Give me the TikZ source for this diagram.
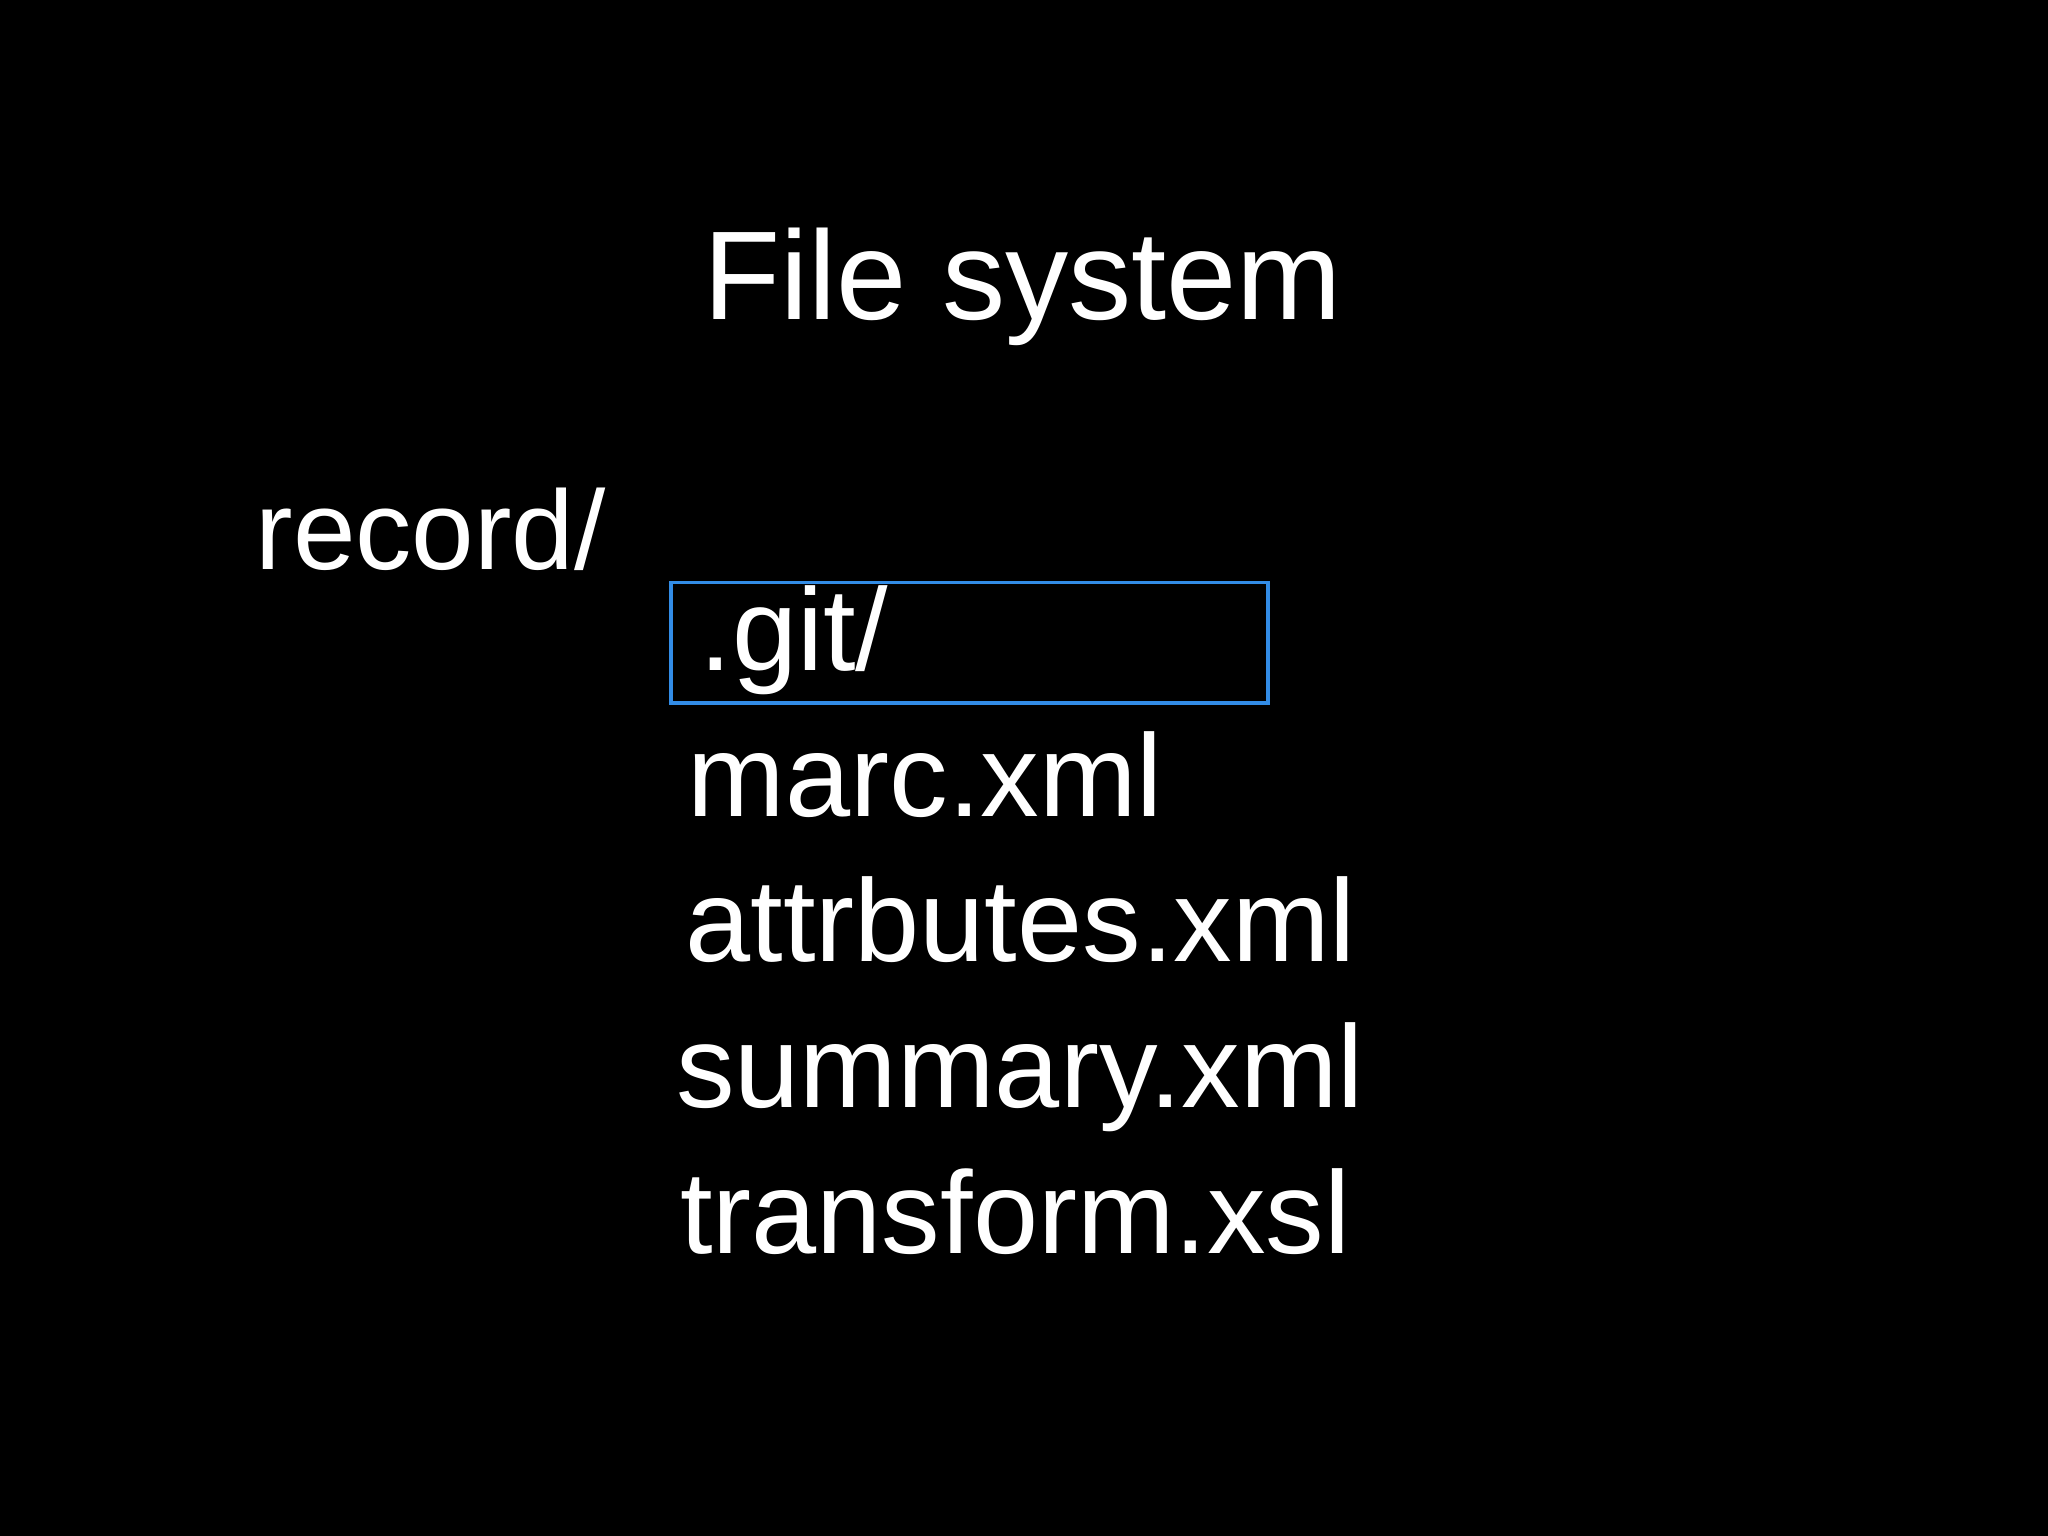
\documentclass[tikz,border=0pt]{standalone}
\usepackage{fontspec}
\setmainfont{Liberation Sans}
\definecolor{boxblue}{RGB}{50,140,230}
\begin{document}
\begin{tikzpicture}[x=0.01cm,y=-0.01cm,
  lbl/.style={anchor=base west,inner sep=0pt,text=white,font=\fontsize{25.5}{30}\selectfont}]
\fill[black] (0,0) rectangle (1568,1176);
\useasboundingbox (0,0) rectangle (1568,1176);
\node[lbl,font=\fontsize{27.5}{32}\selectfont] (title) at (538,245) {File system};
\node[lbl,font=\fontsize{24.5}{30}\selectfont] (rec) at (195,436) {record/};
\draw[boxblue,line width=0.03cm] (514,446) rectangle (971,538);
\node[lbl] (git) at (535,513) {.git/};
\node[lbl] (marc) at (526,625) {marc.xml};
\node[lbl] (attr) at (524,736) {attrbutes.xml};
\node[lbl] (summ) at (517,848) {summary.xml};
\node[lbl] (trans) at (520,960) {transform.xsl};
\end{tikzpicture}
\end{document}
